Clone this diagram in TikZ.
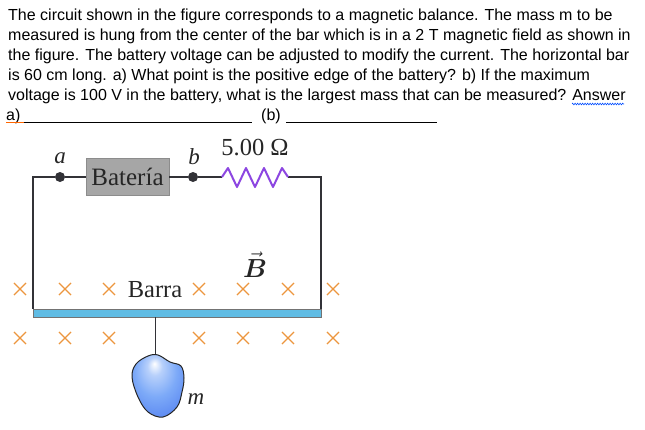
\documentclass[tikz,border=0pt]{standalone}
\usepackage{amsmath}
\usepackage{fontspec}
\setmainfont{Liberation Sans}
\newfontfamily\figfont{Liberation Serif}
\usetikzlibrary{shapes.misc,decorations.pathmorphing}
\definecolor{crossorange}{RGB}{236,150,62}
\definecolor{respurple}{RGB}{140,70,225}
\definecolor{barblue}{RGB}{96,188,228}
\definecolor{wiregray}{RGB}{50,50,55}
\definecolor{massmid}{RGB}{125,170,248}
\definecolor{massdark}{RGB}{70,115,238}
\pgfdeclareradialshading{massglow}{\pgfpoint{-0.12cm}{0.62cm}}{%
  color(0cm)=(white); color(0.25cm)=(massmid!55!white);
  color(0.7cm)=(massmid); color(1.5cm)=(massdark); color(2cm)=(massdark)}
\tikzset{
  textline/.style={anchor=base west,inner sep=0pt,font=\fontsize{16}{18}\selectfont},
  figlabel/.style={inner sep=0pt,text=black!85,font=\figfont\fontsize{24.5}{26}\selectfont},
  figitalic/.style={figlabel,font=\figfont\itshape\fontsize{23}{26}\selectfont},
  wire/.style={draw=wiregray,line width=1.5pt},
  termdot/.style={circle,fill=wiregray,minimum size=10pt,inner sep=0pt},
  crossmark/.style={cross out,draw=crossorange,line width=1.1pt,minimum size=11pt,inner sep=0pt},
  blankline/.style={black,line width=0.8pt},
}
\begin{document}
\begin{tikzpicture}[x=1pt,y=-1pt]
\useasboundingbox (0,0) rectangle (645,429);
% question text
\node[textline] (line1) at (8,20.5) {The circuit shown in the figure corresponds to a magnetic balance. The mass m to be};
\node[textline] (line2) at (8,40) {measured is hung from the center of the bar which is in a 2 T magnetic field as shown in};
\node[textline] (line3) at (8,60) {the figure. The battery voltage can be adjusted to modify the current. The horizontal bar};
\node[textline] (line4) at (8,80) {is 60 cm long. a) What point is the positive edge of the battery? b) If the maximum};
\node[textline] (line5) at (8,100) {voltage is 100 V in the battery, what is the largest mass that can be measured? Answer};
\node[textline] (lineA) at (6,120) {a)};
\node[textline] (lineB) at (261,120) {(b)};
\draw[blankline] (24,122) -- (252,122);
\draw[blankline] (286,122) -- (437,122);
\draw[orange!80!red,line width=0.7pt] (6,122.5) -- (24,122.5);
\draw[blue!70!cyan,line width=0.6pt,decorate,decoration={zigzag,segment length=2.5pt,amplitude=0.8pt}] (572,104) -- (624,104);
% circuit
\node[draw=black!45,fill=black!35,minimum width=83pt,minimum height=37pt,inner sep=0pt,text=black!85,font=\figfont\fontsize{25}{26}\selectfont] (bateria) at (127.5,177) {Batería};
\node[termdot] (a) at (60,177) {};
\node[termdot] (b) at (193,177) {};
\coordinate (resL) at (222,177);
\coordinate (resR) at (288,177);
\node[draw=black!55,fill=barblue,minimum width=288pt,minimum height=8pt,inner sep=0pt] (barra) at (177,313) {};
\draw[wire] (a) -| (barra.north west);
\draw[wire] (resR) -| (barra.north east);
\draw[wire] (a) -- (bateria);
\draw[wire] (bateria) -- (b);
\draw[wire] (b) -- (resL);
\draw[respurple,line width=2pt,line join=round] (resL) -- ++(6,-9) -- ++(9,19) -- ++(9,-19) -- ++(9,19) -- ++(9,-19) -- ++(9,19) -- ++(9,-19) -- ++(6,9) -- (resR);
\node[figitalic] (alabel) at (60,158) {a};
\node[figitalic] (blabel) at (194,157) {b};
\node[figlabel] (reslabel) at (255,148) {5.00 Ω};
% field
\foreach \col in {20,65,109,199,243,288,333}{
  \node[crossmark] (up\col) at (\col,289) {};
  \node[crossmark] (lo\col) at (\col,338) {};
}
\node[figlabel] (barlabel) at (155,290) {Barra};
\node[figlabel] (bfield) at (255,265) {\scalebox{1.05}{$\vec{\boldsymbol{B}}$}};
% hanging mass
\coordinate (masstop) at (155,355);
\draw[draw=wiregray,line width=0.9pt] (barra.south -| masstop) -- (masstop);
\draw[black!85,line width=1pt,shading=massglow] plot[smooth cycle,tension=0.6] coordinates {(148,356) (158,355) (170,362) (181,366) (184,378) (182,392) (177,407) (163,417) (148,412) (138,397) (132,377) (136,364)};
\node[figitalic] (mlabel) at (196,399) {m};
\end{tikzpicture}
\end{document}
